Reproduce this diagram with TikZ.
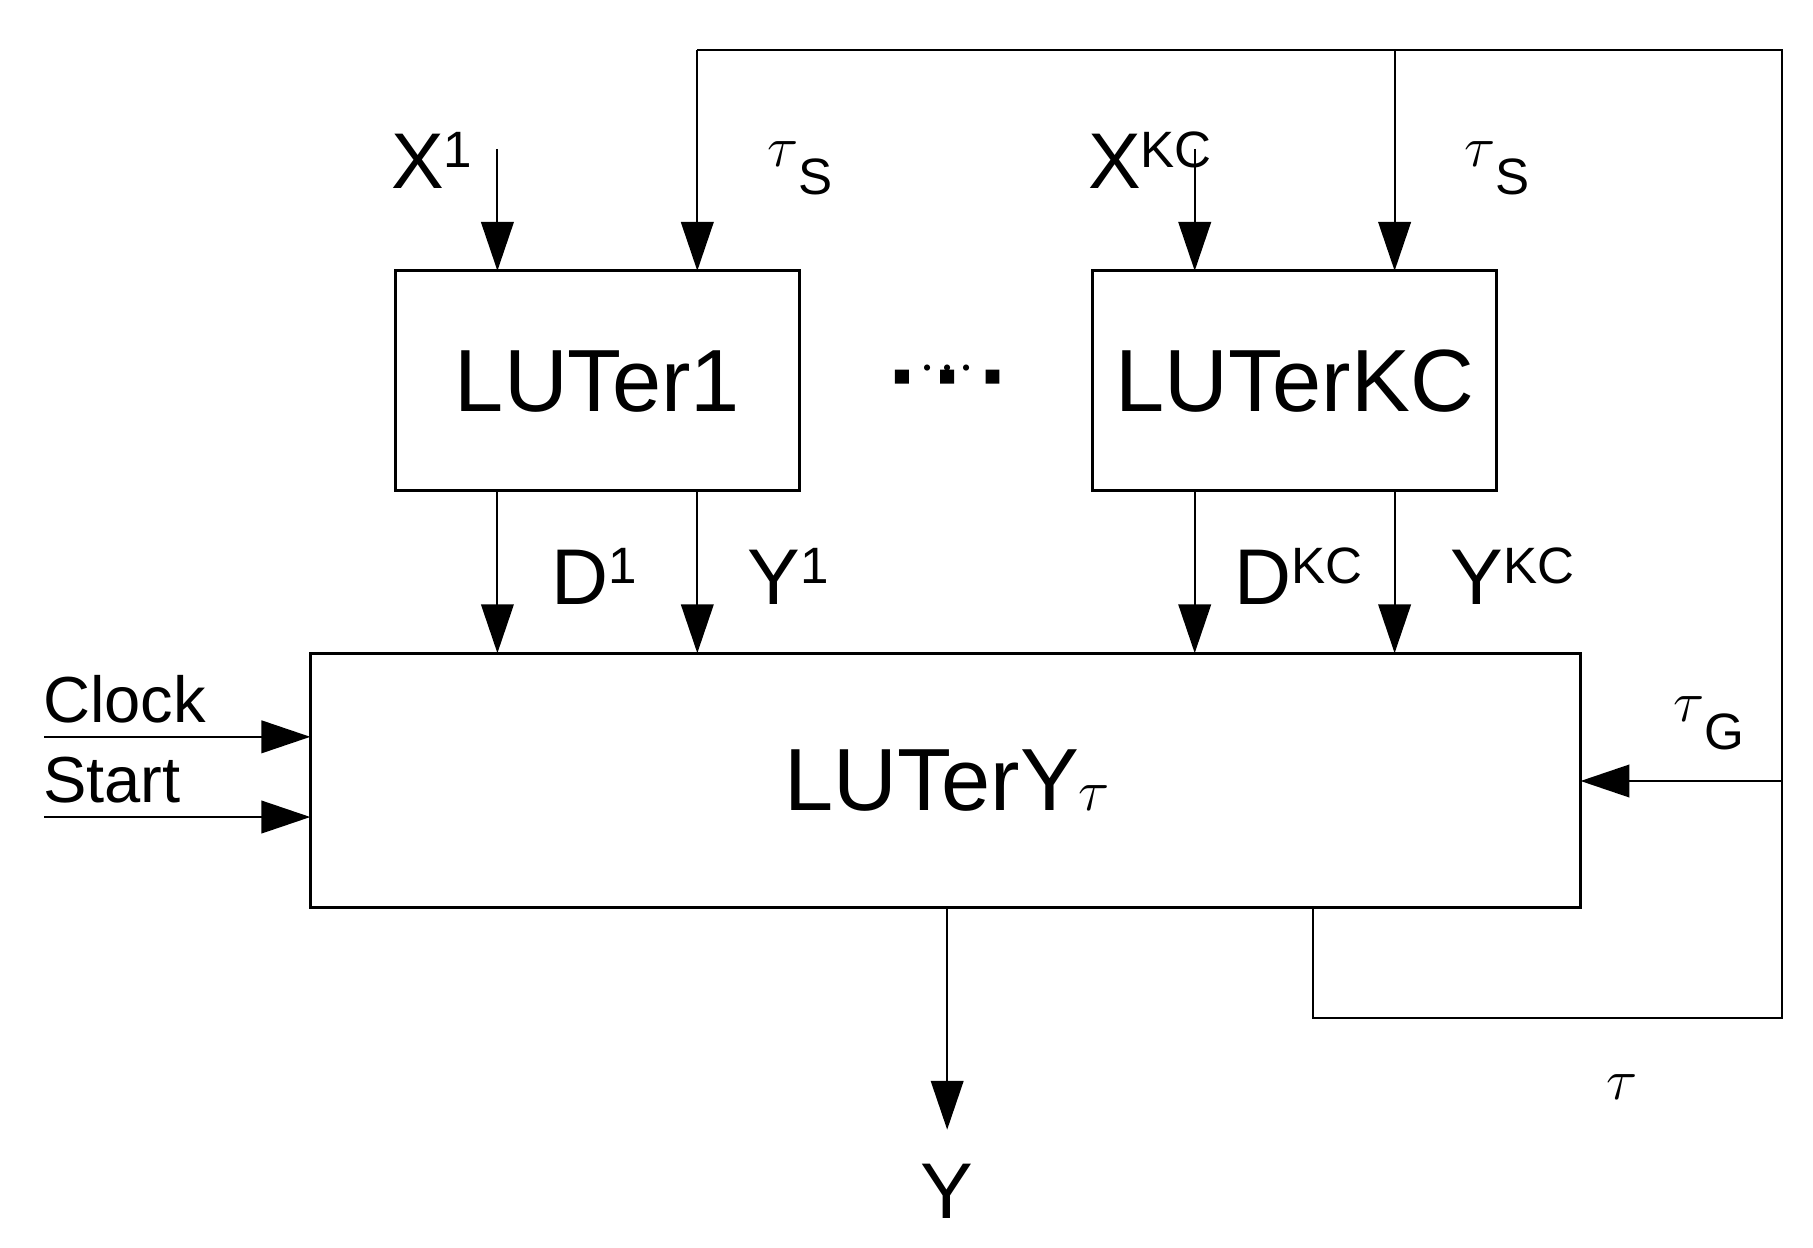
\documentclass[tikz,border=0pt]{standalone}
\usepackage{fontspec}
\setmainfont{Liberation Sans}
\usetikzlibrary{arrows.meta}
\begin{document}
\begin{tikzpicture}[x=0.5pt,y=-0.5pt,
  box/.style={draw,line width=1.3pt,inner sep=0},
  ln/.style={line width=0.9pt},
  ar/.style={ln,-{Triangle[length=21pt,width=14pt]}},
  big/.style={font=\fontsize{38}{40}\selectfont},
  lab/.style={font=\fontsize{34}{36}\selectfont},
  sm/.style={font=\fontsize{28}{30}\selectfont},
  tau/.style={font=\fontsize{44}{46}\selectfont}]
\useasboundingbox (0,0) rectangle (1560,1073);
\draw[box] (340,233) rectangle (688,422);
\node[big] (l1) at (514,328) {LUTer1};
\draw[box] (940,233) rectangle (1288,422);
\node[big] (lk) at (1114,328) {LUTerKC};
\draw[box] (267,562) rectangle (1360,781);
\node[big] (ly) at (815,672) {LUTerY$\tau$};
\node[big] (dots) at (815,318) {\textbf{$\cdot\!\cdot\!\cdot$}};
\fill (770,318) rectangle +(12,12) (809,318) rectangle +(12,12) (848,318) rectangle +(12,12);
% feedback
\coordinate (a) at (1130,781); \coordinate (b) at (1130,876);
\coordinate (c) at (1533,876); \coordinate (d) at (1533,43);
\coordinate (e) at (600,43); \coordinate (f) at (1200,43);
\coordinate (g) at (1533,672);
\draw[ln] (a)--(b)--(c)--(d)--(e);
\draw[ar] (e)--(600,233);
\draw[ar] (f)--(1200,233);
\draw[ar] (g)--(1360,672);
\draw[ar] (428,128)--(428,233);
\draw[ar] (1028,128)--(1028,233);
\foreach \x in {428,600,1028,1200} \draw[ar] (\x,422)--(\x,562);
\draw[ar] (38,634)--(267,634);
\draw[ar] (38,703)--(267,703);
\draw[ar] (815,781)--(815,972);
% labels
\node[lab] (x1) at (372,138) {X$^{\mbox{\fontsize{22}{22}\selectfont 1}}$};
\node[lab] (xk) at (990,138) {X$^{\mbox{\fontsize{22}{22}\selectfont KC}}$};
\node[tau] (t1) at (688,145) {$\tau$\raisebox{-12pt}{\fontsize{22}{22}\selectfont S}};
\node[tau] (t2) at (1288,145) {$\tau$\raisebox{-12pt}{\fontsize{22}{22}\selectfont S}};
\node[lab] (d1) at (512,496) {D$^{\mbox{\fontsize{22}{22}\selectfont 1}}$};
\node[lab] (y1) at (679,496) {Y$^{\mbox{\fontsize{22}{22}\selectfont 1}}$};
\node[lab] (dk) at (1118,496) {D$^{\mbox{\fontsize{22}{22}\selectfont KC}}$};
\node[lab] (yk) at (1302,496) {Y$^{\mbox{\fontsize{22}{22}\selectfont KC}}$};
\node[sm,anchor=west] (clk) at (30,602) {Clock};
\node[sm,anchor=west] (st) at (30,671) {Start};
\node[tau] (tg) at (1470,622) {$\tau$\raisebox{-12pt}{\fontsize{22}{22}\selectfont G}};
\node[tau] (t) at (1396,935) {$\tau$};
\node[lab] (y) at (815,1025) {Y};
\end{tikzpicture}
\end{document}
